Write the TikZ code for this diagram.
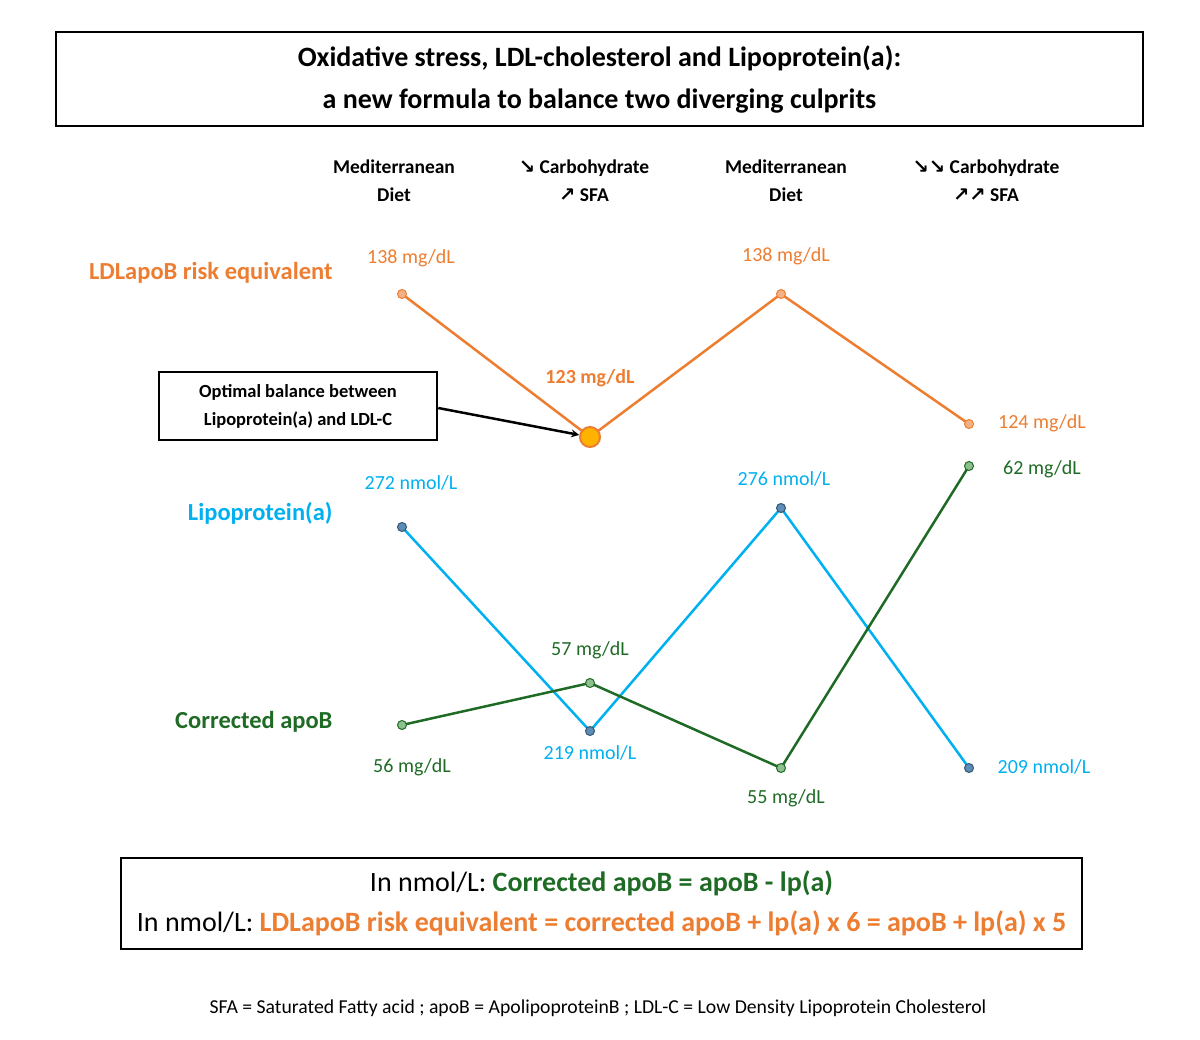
\documentclass[tikz,border=0pt]{standalone}
\usepackage{fontspec}
\setmainfont{Carlito}
\newfontfamily\arr{DejaVu Sans}
\definecolor{org}{HTML}{ED7D31}
\definecolor{blu}{HTML}{00B0F0}
\definecolor{grn}{HTML}{1F6B26}
\definecolor{bdot}{HTML}{5B8DB8}
\begin{document}
\begin{tikzpicture}[x=1pt,y=-1pt,
 lab/.style={font=\fontsize{20}{23}\selectfont},
 head/.style={font=\bfseries\fontsize{19.5}{28}\selectfont,align=center},
 ser/.style={font=\bfseries\fontsize{24.5}{28}\selectfont},
 od/.style={circle,draw=org,fill=org!60,inner sep=0,minimum size=9pt,line width=1pt},
 bd/.style={circle,draw=bdot!60!black,fill=bdot,inner sep=0,minimum size=9pt,line width=1pt},
 gd/.style={circle,draw=grn,fill=green!45!black!45!white,inner sep=0,minimum size=9pt,line width=1pt},
 ln/.style={line width=2.5pt}]
\useasboundingbox (0,0) rectangle (1200,1040);
\node[draw,line width=2.5pt,minimum width=1087pt,minimum height=94pt,align=center,font=\bfseries\fontsize{28}{42}\selectfont] (title) at (599.5,79) {Oxidative stress, LDL-cholesterol and Lipoprotein(a):\\a new formula to balance two diverging culprits};
\node[head] (h1) at (394,181) {Mediterranean\\Diet};
\node[head] (h2) at (584,181) {{\arr\char"2198} Carbohydrate\\{\arr\char"2197} SFA};
\node[head] (h3) at (786,181) {Mediterranean\\Diet};
\node[head] (h4) at (986,181) {{\arr\char"2198\char"2198} Carbohydrate\\{\arr\char"2197\char"2197} SFA};
\node[ser,text=org,anchor=east] (s1) at (336,273) {LDLapoB risk equivalent};
\node[ser,text=blu,anchor=east] (s2) at (336,513) {Lipoprotein(a)};
\node[ser,text=grn,anchor=east] (s3) at (336,722) {Corrected apoB};
\coordinate (o1) at (402,294); \coordinate (o2) at (590,437); \coordinate (o3) at (781,294); \coordinate (o4) at (969,424);
\coordinate (b1) at (402,527); \coordinate (b2) at (590,731); \coordinate (b3) at (781,508); \coordinate (b4) at (969,768);
\coordinate (g1) at (402,725); \coordinate (g2) at (590,683); \coordinate (g3) at (781,768); \coordinate (g4) at (969,466);
\draw[ln,org] (o1)--(o2)--(o3)--(o4);
\draw[ln,blu] (b1)--(b2)--(b3)--(b4);
\draw[ln,grn] (g1)--(g2)--(g3)--(g4);
\foreach \p in {o1,o3,o4} \node[od] at (\p) {};
\node[circle,draw=org,fill=orange!60!yellow,line width=2pt,minimum size=20pt,inner sep=0] (big) at (o2) {};
\foreach \p in {b1,b2,b3,b4} \node[bd] at (\p) {};
\foreach \p in {g1,g2,g3,g4} \node[gd] at (\p) {};
\node[lab,text=org] (lo1) at (411,258) {138 mg/dL};
\node[lab,text=org,font=\bfseries\fontsize{20}{23}\selectfont] (lo2) at (590,378) {123 mg/dL};
\node[lab,text=org] (lo3) at (786,256) {138 mg/dL};
\node[lab,text=org] (lo4) at (1042,423) {124 mg/dL};
\node[lab,text=blu] (lb1) at (411,483) {272 nmol/L};
\node[lab,text=blu] (lb2) at (590,753) {219 nmol/L};
\node[lab,text=blu] (lb3) at (784,479) {276 nmol/L};
\node[lab,text=blu] (lb4) at (1044,767) {209 nmol/L};
\node[lab,text=grn] (lg1) at (412,767) {56 mg/dL};
\node[lab,text=grn] (lg2) at (590,650) {57 mg/dL};
\node[lab,text=grn] (lg3) at (786,798) {55 mg/dL};
\node[lab,text=grn] (lg4) at (1042,469) {62 mg/dL};
\node[draw,line width=2.5pt,minimum width=278pt,minimum height=68pt,align=center,font=\bfseries\fontsize{18.5}{28}\selectfont] (call) at (298,406) {Optimal balance between\\Lipoprotein(a) and LDL-C};
\draw[line width=2.5pt,-stealth] (call.east)++(0,2) -- (big);
\node[draw,line width=2.5pt,minimum width=961pt,minimum height=91pt,align=center,font=\fontsize{28}{40}\selectfont] (form) at (601.5,903.5) {In nmol/L: \textcolor{grn}{\bfseries Corrected apoB = apoB - lp(a)}\\In nmol/L: \textcolor{org}{\bfseries LDLapoB risk equivalent = corrected apoB + lp(a) x 6 = apoB + lp(a) x 5}};
\node[font=\fontsize{19.7}{22}\selectfont] (foot) at (598,1008) {SFA = Saturated Fatty acid ; apoB = ApolipoproteinB ; LDL-C = Low Density Lipoprotein Cholesterol};
\end{tikzpicture}
\end{document}
